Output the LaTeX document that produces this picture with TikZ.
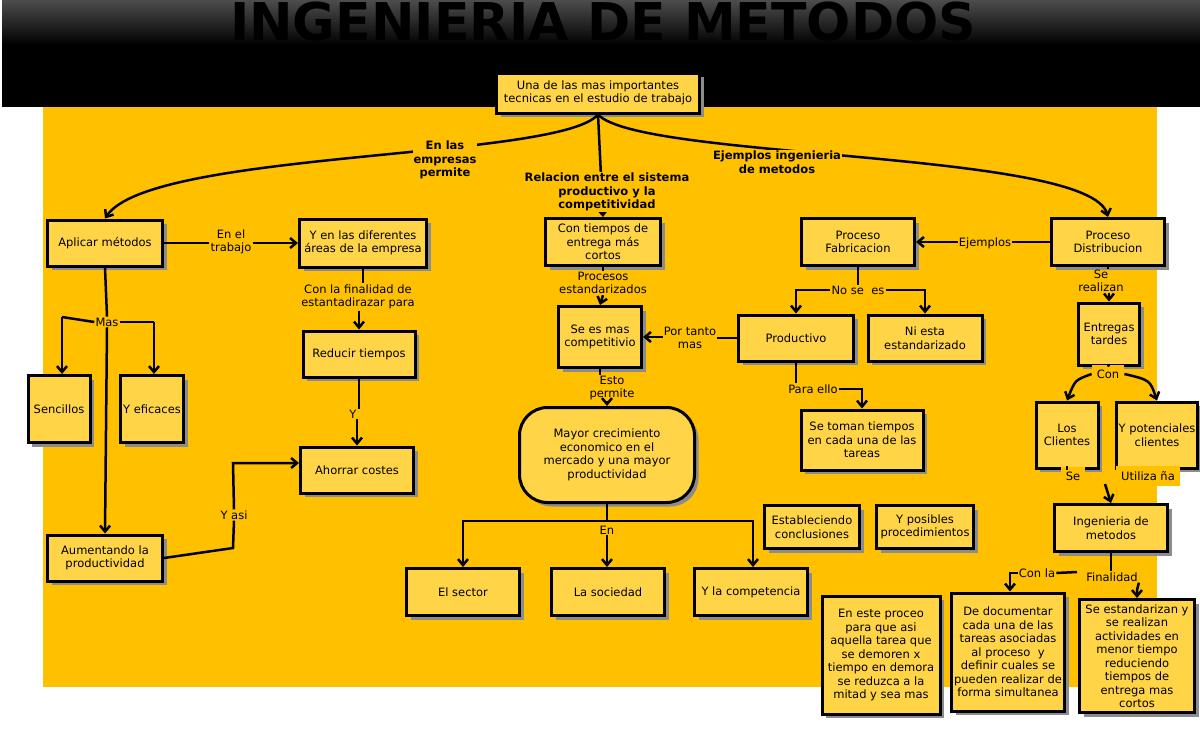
\documentclass[tikz,border=0pt]{standalone}
\usepackage{fontspec}
\setmainfont{DejaVu Sans}
\usetikzlibrary{arrows.meta,shadows}
\definecolor{bgy}{HTML}{FFC000}
\definecolor{boxy}{HTML}{FFD447}
\begin{document}
\begin{tikzpicture}[x=1pt,y=-1pt,
  bx/.style={draw=black,line width=3pt,fill=boxy,align=center,font=\fontsize{11.5}{13.5}\selectfont,inner sep=1pt,
    drop shadow={shadow xshift=4pt,shadow yshift=-4pt,fill=black!45,opacity=1}},
  lb/.style={align=center,font=\fontsize{11.5}{13.5}\selectfont,inner sep=1pt},
  bl/.style={align=center,font=\bfseries\fontsize{11.5}{13.5}\selectfont,inner sep=1pt},
  ar/.style={line width=2.5pt,-{Straight Barb[length=6pt,width=10pt]}},
  ln/.style={line width=2.5pt}]
\useasboundingbox (0,0) rectangle (1200,729);
\fill[white] (0,0) rectangle (1200,729);
\fill[bgy] (43,107) rectangle (1157,687);
\shade[top color=black!70,bottom color=black] (2,0) rectangle (1200,45);
\fill[black] (2,45) rectangle (1200,107);
\node[font=\bfseries\fontsize{52}{52}\selectfont,text=black] (title) at (603,22) {INGENIERIA DE METODOS};
\newcommand{\bxn}[5]{\node[bx,minimum width=#3pt,minimum height=#4pt] (#1) at (#2) {#5};}
\bxn{top}{598,93}{203}{40}{Una de las mas importantes\\tecnicas en el estudio de trabajo}
\bxn{apl}{105,243}{115}{46}{Aplicar métodos}
\bxn{yar}{363,243}{127}{48}{Y en las diferentes\\áreas de la empresa}
\bxn{ctp}{603,242}{115}{47}{Con tiempos de\\entrega más\\cortos}
\bxn{fab}{858,242}{113}{47}{Proceso\\Fabricacion}
\bxn{dis}{1108,242}{113}{47}{Proceso\\Distribucion}
\bxn{red}{359,354}{112}{46}{Reducir tiempos}
\bxn{ses}{600,337}{83}{61}{Se es mas\\competitivio}
\bxn{pro}{796,338}{115}{46}{Productivo}
\bxn{nie}{925,338}{114}{46}{Ni esta\\estandarizado}
\bxn{sen}{59,409}{62}{67}{Sencillos}
\bxn{yef}{152,409}{63}{67}{Y eficaces}
\bxn{aho}{357,470}{113}{46}{Ahorrar costes}
\node[bx,rounded corners=28pt,minimum width=175pt,minimum height=95pt] (may) at (607,455) {Mayor crecimiento\\economico en el\\mercado y una mayor\\productividad};
\bxn{set}{862,440}{122}{60}{Se toman tiempos\\en cada una de las\\tareas}
\bxn{ent}{1109,334}{61}{62}{Entregas\\tardes}
\bxn{los}{1067,435}{62}{66}{Los\\Clientes}
\bxn{ypo}{1157,435}{81}{66}{Y potenciales\\clientes}
\bxn{ing}{1111,528}{113}{47}{Ingenieria de\\metodos}
\bxn{est}{812,527}{95}{43}{Estableciendo\\conclusiones}
\bxn{ypr}{925,527}{97}{43}{Y posibles\\procedimientos}
\bxn{aum}{105,558}{115}{46}{Aumentando la\\productividad}
\bxn{sec}{463,592}{113}{47}{El sector}
\bxn{soc}{608,592}{113}{47}{La sociedad}
\bxn{com}{751,592}{113}{47}{Y la competencia}
\bxn{enp}{881,655}{118}{118}{En este proceo\\para que asi\\aquella tarea que\\se demoren x\\tiempo en demora\\se reduzca a la\\mitad y sea mas}
\bxn{ded}{1008,652}{113}{118}{De documentar\\cada una de las\\tareas asociadas\\al proceso\ \ y\\definir cuales se\\pueden realizar de\\forma simultanea}
\bxn{sesr}{1137,656}{115}{113}{Se estandarizan y\\se realizan\\actividades en\\menor tiempo\\reduciendo\\tiempos de\\entrega mas\\cortos}
\draw[ar] (top.south) .. controls (560,160) and (150,150) .. (apl.north);
\draw[ar] (top.south) -- (ctp.north);
\draw[ar] (top.south) .. controls (640,160) and (1090,150) .. (dis.north);
\node[bl,fill=bgy] (l1) at (445,160) {En las\\empresas\\permite};
\node[bl,fill=bgy] (l2) at (607,192) {Relacion entre el sistema\\productivo y la\\competitividad};
\node[bl,fill=bgy] (l3) at (777,162) {Ejemplos ingenieria\\de metodos};
\node[lb] (l4) at (231,242) {En el\\trabajo};
\draw[ln] (apl.east) -- (l4.west|-apl.east); \draw[ar] (l4.east|-yar.west) -- (yar.west);
\node[lb] (l5) at (358,297) {Con la finalidad de\\estantadirazar para};
\draw[ln] (yar.south) -- (yar.south|-l5.north); \draw[ar] (l5.south-|red.north) -- (red.north);
\node[lb] (l6) at (353,414) {Y};
\draw[ln] (red.south) -- (red.south|-l6.north); \draw[ar] (l6.south-|aho.north) -- (aho.north);
\node[lb] (l7) at (107,322) {Mas};
\coordinate (m1) at (62,317); \coordinate (m2) at (154,322);
\draw[ln] (apl.south) -- (l7.north); \draw[ar] (l7.south) -- (aum.north);
\draw[ln] (l7.west) -- (m1); \draw[ar] (m1) -- (sen.north-|m1);
\draw[ln] (l7.east) -- (m2); \draw[ar] (m2) -- (yef.north-|m2);
\node[lb] (l8) at (234,515) {Y asi};
\draw[ln] (aum.east) -- (233,548) -- (l8.south); \draw[ar] (l8.north) -- (233,463) -- (aho.west|-233,463);
\node[lb] (l9) at (603,283) {Procesos\\estandarizados};
\draw[ln] (ctp.south) -- (l9.north); \draw[ar] (l9.south) -- (ses.north);
\node[lb] (l10) at (612,388) {Esto\\permite};
\draw[ln] (ses.south) -- (ses.south|-l10.north); \draw[ar] (l10.south-|may.north) -- (may.north);
\node[lb] (l11) at (607,530) {En};
\coordinate (s1) at (607,521);
\draw[ln] (may.south) -- (s1);
\draw[ar] (s1) -- (463,521) -- (sec.north);
\draw[ar] (s1) -- (753,521) -- (com.north-|753,521);
\draw[ar] (l11.south) -- (soc.north-|l11.south);
\node[lb] (l12) at (985,243) {Ejemplos};
\draw[ln] (dis.west) -- (l12.east|-dis.west); \draw[ar] (l12.west|-fab.east) -- (fab.east);
\node[lb] (l13) at (858,290) {No se\ \ es};
\draw[ln] (fab.south) -- (l13.north);
\draw[ar] (l13.west) -- (796,290) -- (pro.north);
\draw[ar] (l13.east) -- (925,290) -- (nie.north);
\node[lb] (l14) at (690,338) {Por tanto\\mas};
\draw[ln] (pro.west) -- (l14.east|-pro.west); \draw[ar] (l14.west|-ses.east) -- (ses.east);
\node[lb] (l15) at (813,389) {Para ello};
\draw[ln] (pro.south) -- (pro.south|-l15.north); \draw[ar] (l15.east) -- (862,389) -- (set.north);
\node[lb] (l16) at (1101,281) {Se\\realizan};
\draw[ln] (dis.south) -- (dis.south|-l16.north); \draw[ar] (l16.south-|ent.north) -- (ent.north);
\node[lb,fill=bgy,inner sep=5pt] (l17) at (1108,374) {Con};
\draw[ln] (ent.south) -- (l17.north);
\draw[ar] (l17.west) .. controls (1075,380) .. (los.north);
\draw[ar] (l17.east) .. controls (1150,380) .. (ypo.north);
\node[lb,fill=bgy,inner sep=5pt] (l18) at (1073,476) {Se};
\node[lb,fill=bgy,inner sep=5pt] (l19) at (1148,476) {Utiliza ña};
\draw[ln] (los.south) -- (los.south|-l18.north);
\draw[ar] (1105,484) -- (ing.north);
\node[lb] (l20) at (1037,573) {Con la};
\node[lb] (l21) at (1112,577) {Finalidad};
\draw[ln] (ing.south) -- (ing.south|-l21.north);
\draw[ln] (1077,572) -- (l20.east); \draw[ar] (l20.west) -- (1010,573) -- (ded.north-|1010,573);
\draw[ar] (l21.south east) -- (1137,590) -- (sesr.north);
\end{tikzpicture}
\end{document}
